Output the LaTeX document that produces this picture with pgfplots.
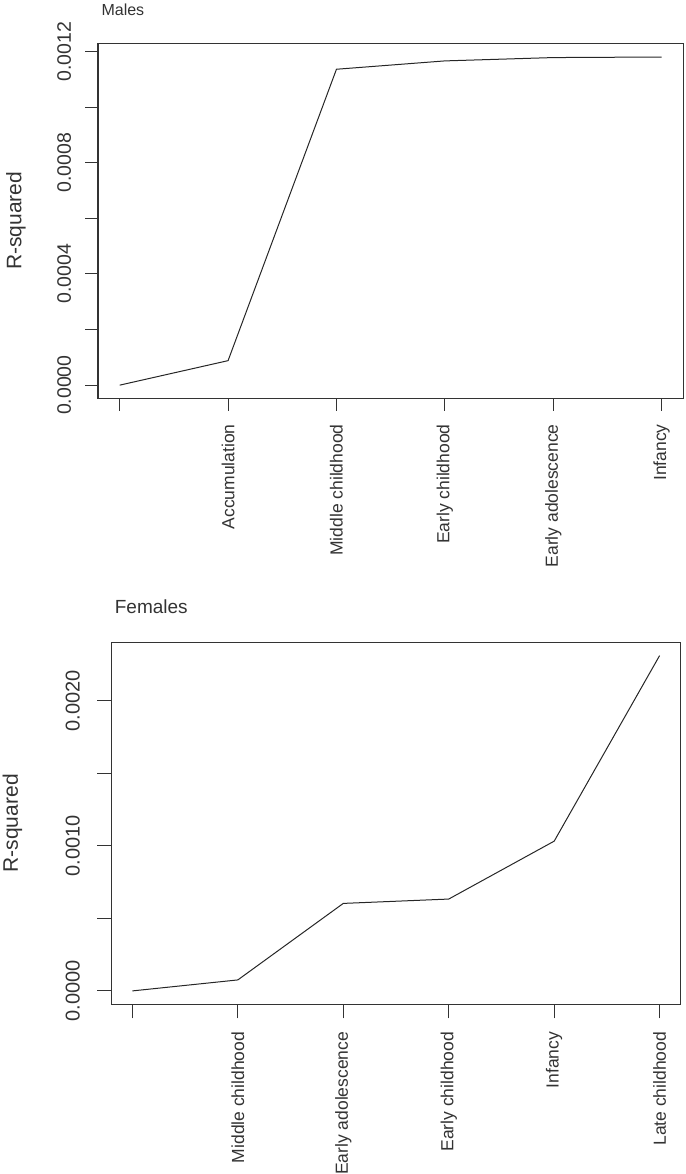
\documentclass[border=0pt]{standalone}
\usepackage{pgfplots}
\pgfplotsset{compat=1.18}
\usepackage{fontspec}
\setmainfont{Liberation Sans}
\definecolor{axgray}{HTML}{333333}
\definecolor{txtgray}{HTML}{333333}
\begin{document}
\begin{tikzpicture}
\path[use as bounding box] (0pt,-1174pt) rectangle (685pt,0pt);
% ---------------- Males ----------------
\begin{axis}[
  at={(98pt,-398.3pt)}, anchor=south west,
  width=585.3pt, height=355pt, scale only axis,
  xmin=0.8, xmax=6.2,
  ymin=-0.0000473, ymax=0.0012293,
  xtick={1,2,3,4,5,6},
  xticklabels={,Accumulation,Middle childhood,Early childhood,Early adolescence,Infancy},
  ytick={0,0.0002,0.0004,0.0006,0.0008,0.0010,0.0012},
  yticklabels={0.0000,,0.0004,,0.0008,,0.0012},
  scaled y ticks=false, scaled x ticks=false,
  /pgf/number format/assume math mode=true,
  xtick pos=bottom, ytick pos=left,
  tick align=outside, major tick length=12.5pt,
  xticklabel shift=10pt, yticklabel shift=11pt,
  axis line style={axgray, line width=1.1pt},
  every tick/.style={axgray, line width=1.1pt},
  xticklabel style={rotate=90, anchor=east, font=\fontsize{17.5}{20}\selectfont, text=txtgray},
  yticklabel style={rotate=90, anchor=south, font=\fontsize{19.5}{22}\selectfont, text=txtgray},
  ylabel={R-squared},
  ylabel style={at={(axis description cs:-0.140,0.5)}, anchor=center, font=\fontsize{21}{24}\selectfont, text=txtgray},
  title={Males},
  every axis title/.style={at={(axis description cs:0,1)}, anchor=base west, yshift=28pt, font=\fontsize{16}{18}\selectfont, text=txtgray},
]
\addplot[black!85, line width=1pt, mark=none] coordinates {
  (1,0) (2,0.0000881) (3,0.001136) (4,0.001166) (5,0.001178) (6,0.001180)
};
\end{axis}
% ---------------- Females ----------------
\begin{axis}[
  at={(111.3pt,-1004.3pt)}, anchor=south west,
  width=569.4pt, height=362pt, scale only axis,
  xmin=0.8, xmax=6.2,
  ymin=-0.0000924, ymax=0.0024024,
  xtick={1,2,3,4,5,6},
  xticklabels={,Middle childhood,Early adolescence,Early childhood,Infancy,Late childhood},
  ytick={0,0.0005,0.0010,0.0015,0.0020},
  yticklabels={0.0000,,0.0010,,0.0020},
  scaled y ticks=false, scaled x ticks=false,
  /pgf/number format/assume math mode=true,
  xtick pos=bottom, ytick pos=left,
  tick align=outside, major tick length=14pt,
  xticklabel shift=10pt, yticklabel shift=14pt,
  axis line style={axgray, line width=1.1pt},
  every tick/.style={axgray, line width=1.1pt},
  xticklabel style={rotate=90, anchor=east, font=\fontsize{17.5}{20}\selectfont, text=txtgray},
  yticklabel style={rotate=90, anchor=south, font=\fontsize{20}{23}\selectfont, text=txtgray},
  ylabel={R-squared},
  ylabel style={at={(axis description cs:-0.1735,0.5)}, anchor=center, font=\fontsize{21}{24}\selectfont, text=txtgray},
  title={Females},
  every axis title/.style={at={(axis description cs:0,1)}, anchor=base west, yshift=29pt, font=\fontsize{19}{21}\selectfont, text=txtgray},
]
\addplot[black!85, line width=1pt, mark=none] coordinates {
  (1,0) (2,0.0000757) (3,0.000603) (4,0.000633) (5,0.001032) (6,0.002311)
};
\end{axis}
\end{tikzpicture}
\end{document}
